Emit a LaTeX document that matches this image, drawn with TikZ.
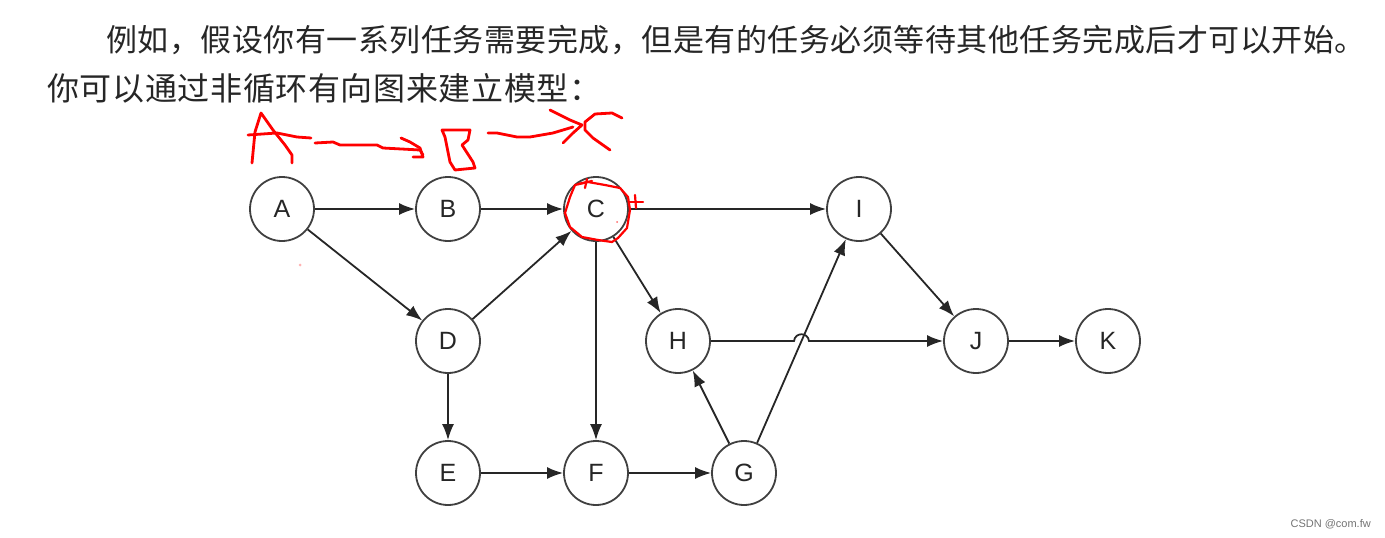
\documentclass[tikz,border=0pt]{standalone}
\usepackage{fontspec}
\setmainfont{Liberation Sans}
\newfontfamily\cjk{Noto Sans CJK SC}
\usepackage{tikz}
\usetikzlibrary{arrows.meta}

\begin{document}
\begin{tikzpicture}[x=1pt, y=-1pt,
  task/.style={circle, draw=black!75, line width=1.8pt, minimum size=64pt, inner sep=0pt,
    font=\fontsize{25}{25}\selectfont, text=black!85},
  link/.style={-{Latex[length=16pt,width=12pt]}, line width=1.8pt, draw=black!85},
  pen/.style={red, line width=2.8pt, line cap=round, line join=round}]
\useasboundingbox (0,0) rectangle (1385,538);
% text
\node[anchor=west, inner sep=0pt, font=\cjk\fontsize{31}{31}\selectfont\addfontfeature{LetterSpace=1.6}, text=black!85] (line1) at (106,40)
  {例如，假设你有一系列任务需要完成，但是有的任务必须等待其他任务完成后才可以开始。};
\node[anchor=west, inner sep=0pt, font=\cjk\fontsize{32}{32}\selectfont\addfontfeature{LetterSpace=2}, text=black!85] (line2) at (47,88)
  {你可以通过非循环有向图来建立模型：};
% tasks
\node[task] (A) at (282,209) {A};
\node[task] (B) at (448,209) {B};
\node[task] (C) at (596,209) {C};
\node[task] (I) at (859,209) {I};
\node[task] (D) at (448,341) {D};
\node[task] (H) at (678,341) {H};
\node[task] (J) at (976,341) {J};
\node[task] (K) at (1108,341) {K};
\node[task] (E) at (448,473) {E};
\node[task] (F) at (596,473) {F};
\node[task] (G) at (744,473) {G};
% edges
\draw[link] (A) -- (B);
\draw[link] (B) -- (C);
\draw[link] (A) -- (D);
\draw[link] (D) -- (C);
\draw[link] (C) -- (I);
\draw[link] (C) -- (H);
\draw[link] (C) -- (F);
\draw[link] (D) -- (E);
\draw[link] (E) -- (F);
\draw[link] (F) -- (G);
\draw[link] (G) -- (H);
\draw[link] (G) -- (I);
\draw[link] (I) -- (J);
\draw[link] (J) -- (K);
\coordinate (hopl) at (794,341);
\coordinate (hopr) at (809,341);
\draw[link] (H) -- (hopl) .. controls (795,332) and (808,332) .. (hopr) -- (J);
% red notes
\draw[pen] (252,163) -- (255,132) -- (261,113) -- (273,130) -- (285,145) -- (292,155) -- (292,163);
\draw[pen] (248,135) -- (277,133) -- (297,137) -- (311,138);
\draw[pen] (315,143) -- (333,142) -- (340,145) -- (377,145) -- (383,148) -- (420,150) -- (423,155);
\draw[pen] (401,138) -- (410,142) -- (420,148) -- (423,157) -- (413,157);
\draw[pen] (442,130) -- (470,130) -- (468,140) -- (462,145) -- (473,162) -- (475,168) -- (455,170) -- (450,162) -- (445,137) -- cycle;
\draw[pen] (488,133) -- (497,133) -- (517,137) -- (530,137) -- (553,133) -- (573,127);
\draw[pen] (550,110) -- (570,120) -- (582,125) -- (573,133) -- (563,143);
\draw[pen] (622,118) -- (612,113) -- (595,114) -- (585,122) -- (585,130) -- (593,138) -- (610,150);
\draw[pen, line width=2.2pt] (575,185) -- (588,182) -- (605,185) -- (620,188) -- (628,197) -- (630,210) -- (627,228)
  -- (618,238) -- (612,242) -- (598,240) -- (582,237) -- (570,227) -- (565,213) -- (570,197) -- cycle;
\draw[pen, line width=2.2pt] (578,184) -- (592,181);
\draw[pen, line width=2.2pt] (587,179) -- (585,188);
\draw[pen, line width=2.2pt] (630,202) -- (643,202);
\draw[pen, line width=2.2pt] (635,195) -- (636,208);
\fill[red!60] (617,222) circle (1pt);
\fill[red!30] (300,265) circle (1.5pt);
% mark
\node[anchor=east, inner sep=0pt, font=\fontsize{11}{11}\selectfont, text=black!55] (mark) at (1371,524) {CSDN @com.fw};
\end{tikzpicture}
\end{document}
